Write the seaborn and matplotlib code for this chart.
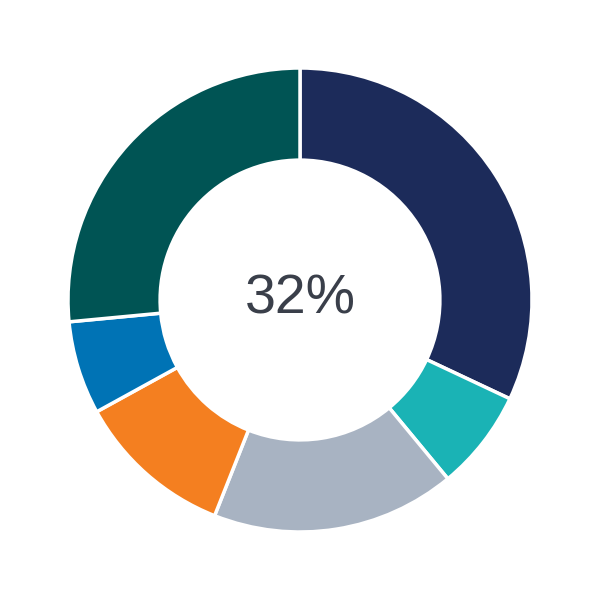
import matplotlib
matplotlib.use("Agg")
import matplotlib.pyplot as plt
import seaborn as sns

# data
labels = ["A", "B", "C", "D", "E", "F"]
shares = [32, 7, 17, 11, 6.5, 26.5]
colors = ["#1c2b5a", "#1ab3b5", "#a8b3c2", "#f47f20", "#0073b5", "#005454"]
center_label = "32%"

sns.set_theme(style="white")
plt.rcParams["font.family"] = ["Liberation Sans", "DejaVu Sans"]

fig = plt.figure(figsize=(6, 6), dpi=100)
ax = fig.add_axes([0, 0, 1, 1])

ax.pie(shares, colors=sns.color_palette(colors), startangle=90, counterclock=False,
       radius=1.0, wedgeprops=dict(width=0.397, edgecolor="white", linewidth=2.5))
ax.text(0, 0, center_label, ha="center", va="center", fontsize=40, color="#3a3f4a")

lim = 300 / 232
ax.set_xlim(-lim, lim)
ax.set_ylim(-lim, lim)
ax.set_aspect("equal")
ax.axis("off")

fig.savefig("out.png", dpi=100, facecolor="white")
